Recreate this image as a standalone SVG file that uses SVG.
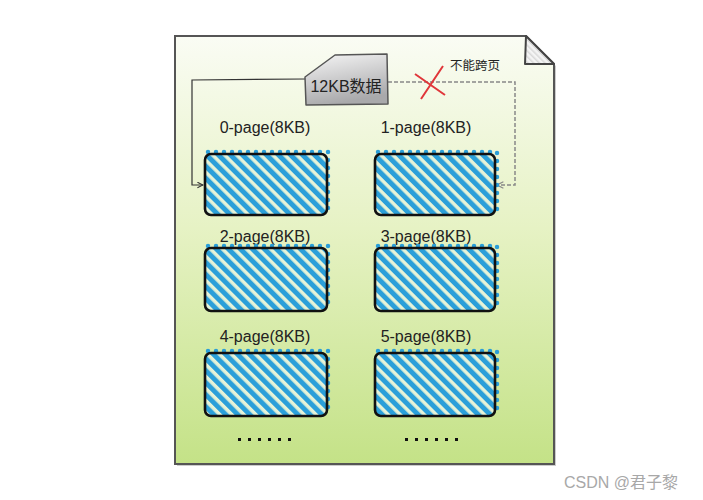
<svg xmlns="http://www.w3.org/2000/svg" width="703" height="500" viewBox="0 0 703 500">
<style>
.lbl{font-family:"Liberation Sans","Noto Sans CJK SC",sans-serif;font-size:16px;fill:#222;text-anchor:middle}
.box{fill:url(#hatch);stroke:none}
.boxo{fill:none;stroke:#111;stroke-width:2.6}
.dots{fill:none;stroke:#2a9ed8;stroke-width:4.5;stroke-linecap:round;stroke-dasharray:0 8}
.dot{fill:#111}
</style>
<defs>
<linearGradient id="bg" x1="0" y1="0" x2="0" y2="1">
<stop offset="0" stop-color="#fafcf4"/>
<stop offset="0.45" stop-color="#e6f2c4"/>
<stop offset="1" stop-color="#c4e287"/>
</linearGradient>
<linearGradient id="gray" x1="0" y1="0" x2="0.3" y2="1">
<stop offset="0" stop-color="#f6f6f6"/>
<stop offset="1" stop-color="#a9a9ab"/>
</linearGradient>
<pattern id="hatch" patternUnits="userSpaceOnUse" width="8.5" height="8.5" patternTransform="rotate(-45)">
<rect width="8.5" height="8.5" fill="#e6f3d8"/>
<rect width="5" height="8.5" fill="#2b9fd9"/>
</pattern>
<pattern id="fold" patternUnits="userSpaceOnUse" width="4" height="4" patternTransform="rotate(-45)">
<rect width="4" height="4" fill="#f4f4f4"/>
<rect width="1.5" height="4" fill="#d8d8d8"/>
</pattern>
<marker id="arr" viewBox="0 0 10 10" refX="9" refY="5" markerWidth="7" markerHeight="7" orient="auto" markerUnits="userSpaceOnUse">
<path d="M1,1 L9,5 L1,9" fill="none" stroke="#333" stroke-width="1.5"/>
</marker>
<marker id="arrg" viewBox="0 0 10 10" refX="9" refY="5" markerWidth="8" markerHeight="8" orient="auto" markerUnits="userSpaceOnUse">
<path d="M1,1 L9,5 L1,9" fill="none" stroke="#888" stroke-width="1.5"/>
</marker>
</defs>
<g id="document">
<path d="M177,38 L528,38 L556,66 L556,466 L177,466 Z" fill="#999" opacity="0.5"/>
<path d="M175,36 L526,36 L554,64 L554,464 L175,464 Z" fill="url(#bg)" stroke="#555" stroke-width="2"/>
<path d="M526,36 L525,64 L554,64 Z" fill="url(#fold)" stroke="#444" stroke-width="2" stroke-linejoin="round"/>
</g>
<g id="connectors">
<path d="M305,79 L192,80 L192,185 L203,185" fill="none" stroke="#333" stroke-width="1.2" marker-end="url(#arr)"/>
<path d="M388,82 L515,82 L515,185 L497,185" fill="none" stroke="#888" stroke-width="1.5" stroke-dasharray="4 2" marker-end="url(#arrg)"/>
</g>
<g id="data">
<path d="M305,77 L335,55 L387,54 L388,104 L306,105 Z" fill="url(#gray)" stroke="#555" stroke-width="1.5" stroke-linejoin="round"/>
<text x="346" y="92" class="lbl">12KB数据</text>
</g>
<g id="cross">
<path d="M415,74 L445,95 M443,66 L421,99" stroke="#e0363a" stroke-width="2" fill="none"/>
<text x="475" y="70" class="lbl" style="font-size:12.5px">不能跨页</text>
</g>
<g id="page0">
<text x="265" y="133" class="lbl">0-page(8KB)</text>
<rect x="205" y="154" width="122" height="61" rx="6" class="box"/>
<path d="M208,152 L328,152 L328,213" class="dots"/>
<rect x="205" y="154" width="122" height="61" rx="6" class="boxo"/>
</g>
<g id="page1">
<text x="426" y="133" class="lbl">1-page(8KB)</text>
<rect x="375" y="154" width="120" height="61" rx="6" class="box"/>
<path d="M378,152 L497,152 L497,213" class="dots"/>
<rect x="375" y="154" width="120" height="61" rx="6" class="boxo"/>
</g>
<g id="page2">
<text x="265" y="242" class="lbl">2-page(8KB)</text>
<rect x="205" y="248" width="122" height="63" rx="6" class="box"/>
<path d="M208,246 L328,246 L328,309" class="dots"/>
<rect x="205" y="248" width="122" height="63" rx="6" class="boxo"/>
</g>
<g id="page3">
<text x="426" y="242" class="lbl">3-page(8KB)</text>
<rect x="375" y="248" width="120" height="63" rx="6" class="box"/>
<path d="M378,246 L497,246 L497,309" class="dots"/>
<rect x="375" y="248" width="120" height="63" rx="6" class="boxo"/>
</g>
<g id="page4">
<text x="265" y="342" class="lbl">4-page(8KB)</text>
<rect x="205" y="353" width="122" height="63" rx="6" class="box"/>
<path d="M208,351 L328,351 L328,414" class="dots"/>
<rect x="205" y="353" width="122" height="63" rx="6" class="boxo"/>
</g>
<g id="page5">
<text x="426" y="342" class="lbl">5-page(8KB)</text>
<rect x="375" y="353" width="120" height="63" rx="6" class="box"/>
<path d="M378,351 L497,351 L497,414" class="dots"/>
<rect x="375" y="353" width="120" height="63" rx="6" class="boxo"/>
</g>
<g id="more">
<rect x="238" y="438" width="3" height="3" class="dot"/>
<rect x="248" y="438" width="3" height="3" class="dot"/>
<rect x="258" y="438" width="3" height="3" class="dot"/>
<rect x="268" y="438" width="3" height="3" class="dot"/>
<rect x="278" y="438" width="3" height="3" class="dot"/>
<rect x="288" y="438" width="3" height="3" class="dot"/>
<rect x="405" y="438" width="3" height="3" class="dot"/>
<rect x="415" y="438" width="3" height="3" class="dot"/>
<rect x="425" y="438" width="3" height="3" class="dot"/>
<rect x="435" y="438" width="3" height="3" class="dot"/>
<rect x="445" y="438" width="3" height="3" class="dot"/>
<rect x="455" y="438" width="3" height="3" class="dot"/>
</g>
<text x="621" y="488" class="lbl" style="font-size:16px;fill:#a8a8a8">CSDN @君子黎</text>
</svg>
